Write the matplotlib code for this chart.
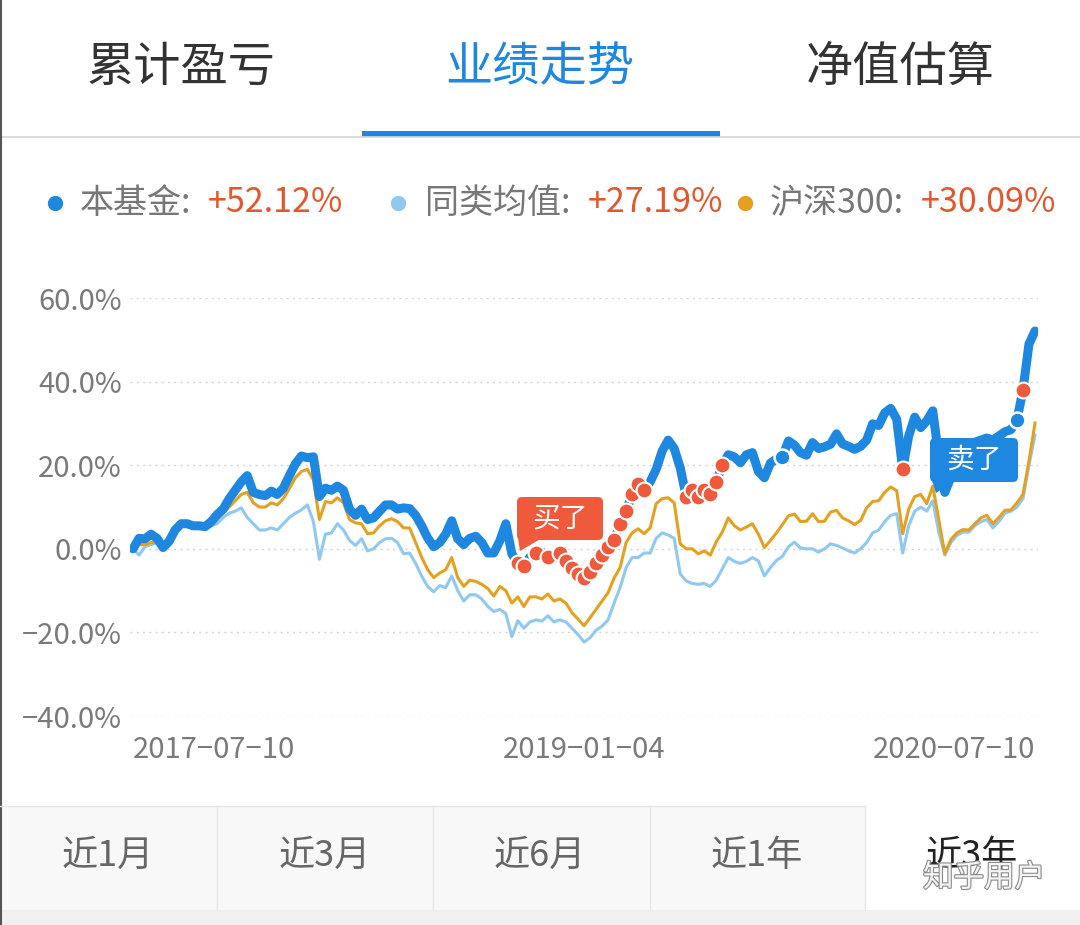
import numpy as np
import matplotlib.pyplot as plt
import matplotlib.patheffects as pe
from matplotlib.patches import Rectangle, FancyBboxPatch, Polygon

plt.rcParams['font.family'] = ['Noto Sans CJK SC', 'DejaVu Sans']

# ---- data (151 evenly spaced trading-day samples) ----
date_labels = ['2017-07-10', '2019-01-04', '2020-07-10']
date_ticks = [0, 75, 150]

fund = [0, 2.5, 2.4, 3.5, 2.5, 0.3, 1.8, 4.5, 6, 6,
        5.5, 5.5, 5.3, 6.5, 8.2, 9.5, 12, 14, 16, 17.5,
        13.5, 13, 12.7, 13.8, 13, 14.5, 17.5, 20.3, 22.2, 21.8,
        22, 12.5, 14.5, 14, 15, 14, 9.5, 8, 9.5, 7,
        7.4, 9, 10.5, 10.5, 9.5, 9.8, 9.6, 8, 5.5, 2.6,
        0.5, 1.5, 3.5, 6.7, 2.4, 1, 2.5, 3, 1.5, -1,
        -1, 1.9, 6, -1.2, -3.5, -4, -2, -1, -0.8, -2,
        -2.2, -1, -3, -4.5, -6, -7, -5.5, -3.5, -1.5, 0.5,
        2, 6, 9, 13, 15.5, 14, 16, 19, 23.4, 26,
        24, 19.4, 12.5, 14, 12.5, 14, 13, 16, 20, 22.5,
        22, 20.6, 22.5, 23, 18.5, 17, 20.5, 21.5, 22, 25.8,
        24.8, 23, 22.4, 25.4, 24, 24.4, 25, 27.5, 25.1, 24.5,
        23.8, 24.5, 26, 29.9, 29.5, 32.5, 33.6, 31, 19, 27,
        31.5, 29, 30.6, 33, 22, 13.5, 17, 22, 24, 25,
        25.5, 26, 26.5, 26, 27, 28, 28.5, 30.8, 38, 49,
        52.1]

peer = [0, -1.5, 0.5, 1, 1.5, 0.3, 1.5, 4, 5.5, 5.5,
        5, 5, 5, 5.5, 6, 7.5, 8.5, 9, 9.8, 7.5,
        6, 4.5, 4.5, 5, 4.5, 6, 7.5, 8.5, 9.3, 10.5,
        6.5, -2.5, 3.5, 3.8, 6, 4.5, 2, 0.8, 2.4, -0.5,
        0, 1.5, 2.4, 2.5, 1.5, -1.2, -1, -3.5, -6.5, -9,
        -10.3, -8.8, -9.3, -6.5, -10, -12.5, -11, -11, -12, -13.8,
        -15, -14.5, -15.5, -21, -17.2, -19, -17.5, -17, -17.3, -16,
        -17.5, -17, -17.5, -19, -20.5, -22.3, -21.3, -19.5, -18.5, -17,
        -13, -9.3, -4.5, -2.1, -2.1, -1, -1, 2.5, 3.8, 3.3,
        2.5, -6, -7.7, -8.3, -8.5, -8.3, -9, -7.5, -4.8, -2.1,
        -3, -3.5, -3, -2.1, -2.9, -6.5, -4.5, -2.8, -1.8, 0.5,
        1.6, 0.2, 0, 0, -0.8, 0, 1.2, 0.8, 0.2, -0.5,
        -1, 0, 1.5, 3.8, 4.5, 6.5, 8, 8.4, -1, 5.5,
        9, 10, 9, 11.5, 4, -1.5, 1.5, 3.2, 4, 4,
        5.5, 6.5, 7, 5, 6.5, 8.5, 9, 10, 12, 20,
        27.2]

hs300 = [0, 1, 1, 1.5, 1.5, 0.5, 1.5, 4, 5.5, 5.5,
         5.2, 5, 5, 5.5, 7, 8.5, 10, 11.5, 13, 13.5,
         11, 10, 10, 11, 10.5, 12, 14.4, 17, 18.5, 19,
         16.5, 7, 11.3, 11, 12.2, 11, 7, 6.2, 6, 3.6,
         3.8, 5.5, 6.7, 7.2, 6.5, 5, 5, 1.5, -2, -5,
         -6.9, -5.8, -5, -2.1, -6.9, -9, -7.5, -7.8, -8.5, -9.5,
         -11.3, -9, -10, -13, -11.5, -13.8, -11.5, -11.5, -12, -10.8,
         -12.5, -12, -13, -15.3, -16.8, -18.4, -16.5, -14.5, -12.5, -10.5,
         -7, -4.5, 1.5, 3.8, 4.8, 3.6, 5, 10.8, 12, 12.2,
         11, 1.2, 0, 0, -1.2, -0.5, -1.5, 1.7, 4, 7.4,
         5.5, 4.5, 5.2, 6, 3.5, 0.3, 2, 3.8, 5.8, 7.9,
         8.3, 6.5, 6.6, 8.4, 6.5, 6.6, 8.8, 9.2, 7.4, 6.7,
         5.8, 6.8, 9.8, 11.3, 11.5, 13.5, 14.8, 13.9, 3.6, 9.5,
         12.5, 13, 10.8, 15, 7, -1.2, 2.2, 3.8, 4.6, 4.5,
         6, 7.4, 8, 6, 7.5, 9.2, 9.3, 11, 13, 21,
         30.1]

# sample positions where the app marks a purchase / a sale on the fund line
buy_idx = [64, 65, 67, 69, 71, 72, 73, 74, 75, 76, 77, 78, 79, 80, 81, 82, 83,
           84, 85, 92, 93, 94, 95, 96, 97, 98, 128, 148]
sell_idx = [108, 147]

legend_names = ['本基金:', '同类均值:', '沪深300:']
legend_returns = ['+52.12%', '+27.19%', '+30.09%']
top_tabs = ['累计盈亏', '业绩走势', '净值估算']
range_tabs = ['近1月', '近3月', '近6月', '近1年', '近3年']

FUND = '#1e88e0'
PEER = '#8fc8f0'
HS = '#e5a020'
RED = '#ee5a3b'

W, H = 1080, 925


def fx(x):
    return x / W


def fy(y):
    return 1 - y / H


fig = plt.figure(figsize=(W / 100, H / 100), dpi=100)
fig.patch.set_facecolor('white')

# ---- top tabs ----
tab_x = [181, 540, 900]
for i, name in enumerate(top_tabs):
    c = FUND if i == 1 else '#333333'
    fig.text(fx(tab_x[i]), fy(68), name, fontsize=34, color=c, ha='center', va='center')
fig.add_artist(plt.Line2D([0, 1], [fy(137), fy(137)], color='#d6d6d6', lw=1.2))
fig.add_artist(Rectangle((fx(362), fy(137)), fx(720) - fx(362), 6 / H, color=FUND, lw=0))
fig.add_artist(plt.Line2D([fx(1), fx(1)], [0, 1], color='#555555', lw=1.5))

# ---- legend ----
dot_x = [55, 398, 745]
name_x = [80, 425, 770]
ret_x = [208, 588, 921]
for i, col in enumerate([FUND, PEER, HS]):
    fig.add_artist(plt.Line2D([fx(dot_x[i])], [fy(203)], marker='o', markersize=10,
                              color=col, lw=0))
    fig.text(fx(name_x[i]), fy(203), legend_names[i], fontsize=24.5, color='#777777',
             ha='left', va='center')
    fig.text(fx(ret_x[i]), fy(203), legend_returns[i], fontsize=24.5, color='#e2572c',
             ha='left', va='center')

# ---- chart ----
ax = fig.add_axes([fx(130), fy(716), (1038 - 130) / W, (716 - 298) / H])
t = np.arange(len(fund))
ax.plot(t, peer, color=PEER, lw=2.2, zorder=2)
ax.plot(t, hs300, color=HS, lw=2.2, zorder=3)
ax.plot(t, fund, color=FUND, lw=6.5, zorder=4, solid_joinstyle='round',
        solid_capstyle='round')
ax.scatter(buy_idx, [fund[i] for i in buy_idx], s=130, color=RED,
           edgecolor='white', linewidth=1.5, zorder=5)
ax.scatter(sell_idx, [fund[i] for i in sell_idx], s=130, color=FUND,
           edgecolor='white', linewidth=1.8, zorder=5)

ax.set_xlim(-0.5, len(fund) - 0.5)
ax.set_ylim(-40, 60)
yt = list(range(-40, 61, 20))
ax.set_yticks(yt)
ax.set_yticklabels([f'{v:.1f}%'.replace('-', '\u2212') for v in yt])
ax.set_xticks(date_ticks)
ax.set_xticklabels([d.replace('-', '\u2212') for d in date_labels])
xl = ax.get_xticklabels()
xl[0].set_ha('left')
xl[-1].set_ha('right')
ax.tick_params(axis='y', length=0, labelsize=21, colors='#7a7a7a', pad=6)
ax.tick_params(axis='x', length=0, labelsize=21, colors='#7a7a7a', pad=14)
ax.yaxis.grid(True, linestyle=(0, (1.5, 3)), color='#d4d4d4', lw=1)
ax.set_axisbelow(True)
for s in ax.spines.values():
    s.set_visible(False)

# ---- buy / sell callouts (pixel layout in inches) ----
inch = fig.dpi_scale_trans


def callout(x0, y0, x1, y1, tail, text, color):
    fig.add_artist(FancyBboxPatch((x0 / 100, (H - y1) / 100), (x1 - x0) / 100, (y1 - y0) / 100,
                                  boxstyle='round,pad=0,rounding_size=0.05',
                                  fc=color, ec='none', transform=inch, zorder=10))
    fig.add_artist(Polygon([(px / 100, (H - py) / 100) for px, py in tail],
                           closed=True, fc=color, ec='none', transform=inch, zorder=10))
    fig.text(fx((x0 + x1) / 2), fy((y0 + y1) / 2), text, fontsize=20, color='white',
             ha='center', va='center', zorder=11)


callout(517, 497, 603, 540, [(517, 532), (542, 538), (520, 551)], '买了', RED)
callout(930, 438, 1018, 482, [(930, 474), (956, 480), (936, 493)], '卖了', FUND)

# ---- bottom range tabs ----
fig.add_artist(Rectangle((0, fy(910)), fx(865), (910 - 806) / H, color='#f8f8f8', lw=0))
fig.add_artist(Rectangle((0, 0), 1, 15 / H, color='#f0f0f0', lw=0))
fig.add_artist(plt.Line2D([0, fx(865)], [fy(806), fy(806)], color='#e4e4e4', lw=1))
for xd in [217, 433, 650, 865]:
    fig.add_artist(plt.Line2D([fx(xd), fx(xd)], [fy(806), fy(910)], color='#e6e6e6', lw=1))
rx = [108, 325, 540, 757, 972]
for i, lab in enumerate(range_tabs):
    c = '#222222' if i == len(range_tabs) - 1 else '#666666'
    fig.text(fx(rx[i]), fy(856), lab, fontsize=26, color=c, ha='center', va='center')

fig.text(fx(984), fy(878), '知乎用户', fontsize=22, color='#f4f4f4', ha='center', va='center',
         path_effects=[pe.withStroke(linewidth=1.6, foreground='#8a8a8a')])

fig.savefig('out.png', dpi=100)
